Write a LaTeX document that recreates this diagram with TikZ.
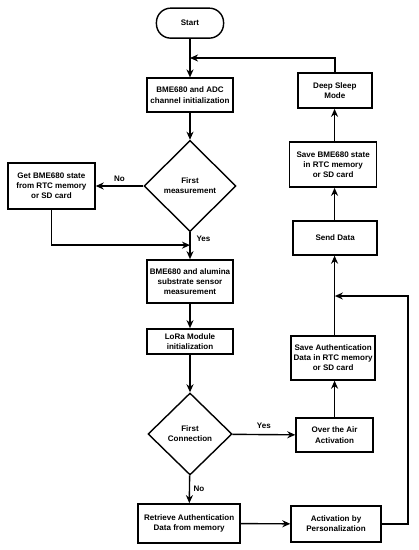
\documentclass[tikz,border=0pt]{standalone}
\usepackage{fontspec}
\setmainfont{Liberation Sans}
\usetikzlibrary{arrows.meta,positioning,shapes.geometric,calc}

\begin{document}
\begin{tikzpicture}[every node/.style={font=\fontsize{8}{10}\selectfont\bfseries},
    procbox/.style={draw,line width=1.4pt,align=center,inner sep=1pt},
    decision/.style={draw,diamond,line width=1.4pt,align=center,inner sep=0pt},
    flow/.style={line width=1.4pt,-{Stealth[length=8pt,width=7pt]}}]
  \useasboundingbox (0,0) rectangle (14.63,-19.25);

  %% Left column
  \node[procbox,rounded corners=0.5cm,minimum width=2.35cm,minimum height=1.05cm]
        (start) at (6.65,-0.81) {Start};
  \node[procbox,minimum width=3.01cm,minimum height=1.19cm]
        (init) at (6.65,-3.33) {BME680 and ADC\\channel initialization};
  \node[decision,minimum width=3.22cm,minimum height=3.19cm]
        (firstmeas) at (6.65,-6.51) {First\\measurement};
  \node[procbox,minimum width=3.05cm,minimum height=1.61cm]
        (getstate) at (1.80,-6.51) {Get BME680 state\\from RTC memory\\or SD card};
  \node[procbox,minimum width=3.01cm,minimum height=1.51cm]
        (measure) at (6.65,-9.85) {BME680 and alumina\\substrate sensor\\measurement};
  \node[procbox,minimum width=3.01cm,minimum height=0.88cm]
        (lora) at (6.65,-11.95) {LoRa Module\\initialization};
  \node[decision,minimum width=2.94cm,minimum height=2.87cm]
        (firstconn) at (6.65,-15.19) {First\\Connection};
  \node[procbox,minimum width=3.57cm,minimum height=1.37cm]
        (retrieve) at (6.62,-18.32) {Retrieve Authentication\\Data from memory};

  %% Right column
  \node[procbox,minimum width=2.70cm,minimum height=1.19cm]
        (ota) at (11.71,-15.23) {Over the Air\\Activation};
  \node[procbox,minimum width=3.15cm,minimum height=1.26cm]
        (abp) at (11.76,-18.34) {Activation by\\Personalization};
  \node[procbox,minimum width=2.94cm,minimum height=1.54cm]
        (saveauth) at (11.66,-12.53) {Save Authentication\\Data in RTC memory\\or SD card};
  \node[procbox,minimum width=2.94cm,minimum height=1.19cm]
        (senddata) at (11.73,-8.33) {Send Data};
  \node[procbox,minimum width=3.05cm,minimum height=1.58cm]
        (savestate) at (11.66,-5.76) {Save BME680 state\\in RTC memory\\or SD card};
  \node[procbox,minimum width=2.59cm,minimum height=1.23cm]
        (deepsleep) at (11.72,-3.17) {Deep Sleep\\Mode};

  %% Merge points
  \coordinate (join1) at (6.65,-2.03);
  \coordinate (join2) at (6.65,-8.58);
  \coordinate (join3) at (11.72,-10.36);
  \coordinate (back3) at (14.28,-10.36);

  %% Connectors
  \draw[flow] (start) -- (init);
  \draw[flow] (init) -- (firstmeas);
  \draw[flow] (firstmeas) -- node[above]{No} (getstate);
  \draw[flow] (getstate.south) |- (join2);
  \draw[flow] (firstmeas) -- (measure);
  \node (yes1) at (7.12,-8.37) {Yes};
  \draw[flow] (measure) -- (lora);
  \draw[flow] (lora) -- (firstconn);
  \draw[flow] (firstconn) -- node[above=2pt]{Yes} (ota);
  \draw[flow] (firstconn) -- node[right]{No} (retrieve);
  \draw[flow] (retrieve) -- (abp);
  \draw[flow] (abp.east) -| (back3) -- (join3);
  \draw[flow] (ota.north) -- (ota.north |- saveauth.south);
  \draw[flow] (ota.north |- saveauth.north) -- (ota.north |- senddata.south);
  \draw[flow] (ota.north |- senddata.north) -- (ota.north |- savestate.south);
  \draw[flow] (ota.north |- savestate.north) -- (ota.north |- deepsleep.south);
  \draw[flow] (deepsleep.north) |- (join1);
\end{tikzpicture}
\end{document}
